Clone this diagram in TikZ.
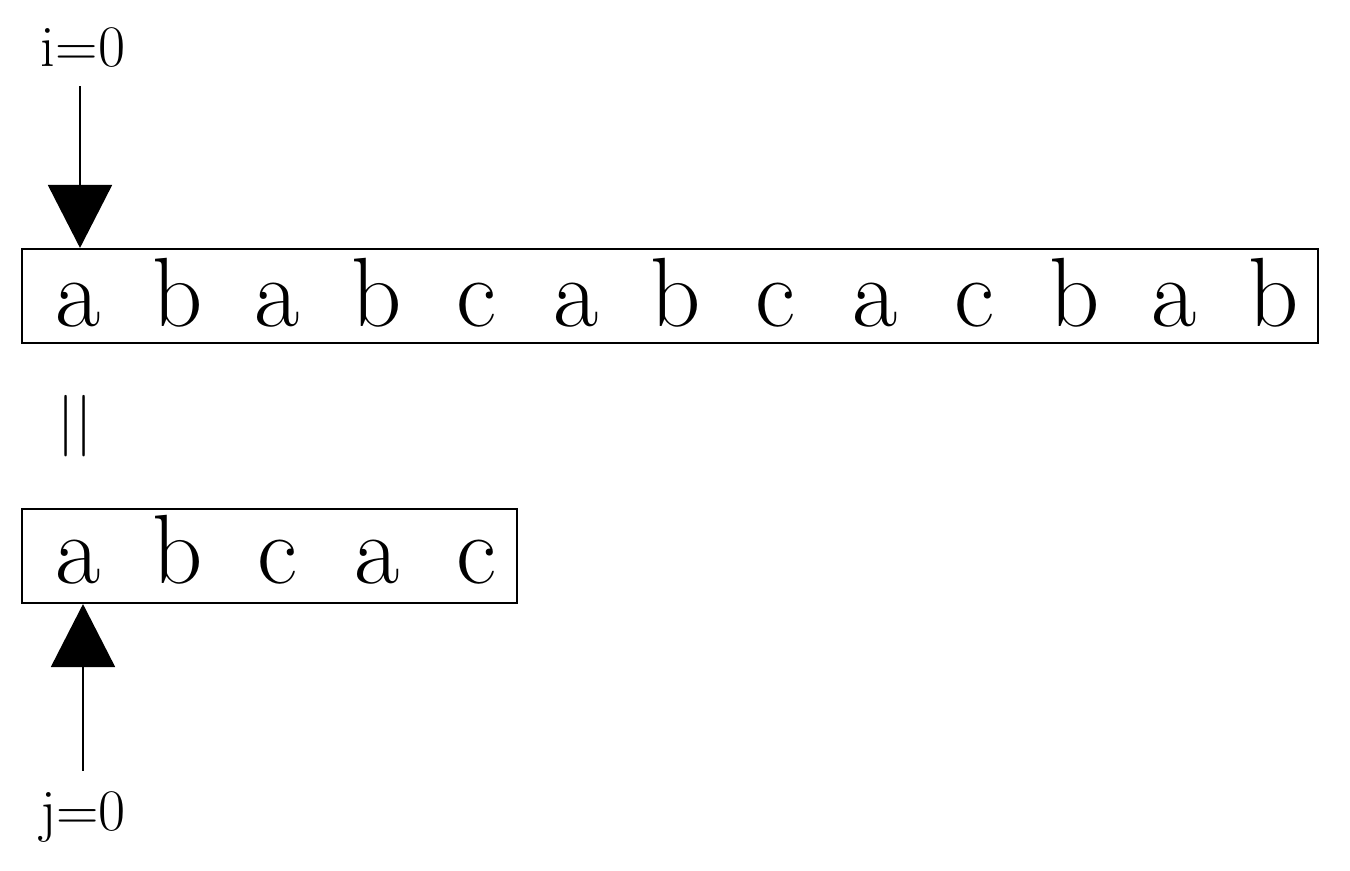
\documentclass[tikz,border=0pt]{standalone}
\usetikzlibrary{arrows.meta}

\tikzset{
    letter/.style={anchor=base, inner sep=0pt, font=\fontsize{56}{60}\selectfont},
    idxtext/.style={anchor=base, inner sep=0pt, font=\fontsize{33.5}{38}\selectfont},
    strbox/.style={draw, line width=1.2pt, minimum height=1.88cm, inner sep=0pt},
    pointer/.style={line width=1.1pt, -{Triangle[length=1.26cm, width=1.28cm]}}
}

\begin{document}
\begin{tikzpicture}
        \useasboundingbox (0, 0) rectangle (27, 17.4);

        % Boxes
        \node[strbox, minimum width=25.92cm] (Text) at (13.4, 11.48) {};
        \node[strbox, minimum width=9.9cm] (Pattern) at (5.39, 6.28) {};

        % Letters
        \foreach \c [count=\k from 0] in {a,b,a,b,c,a,b,c,a,c,b,a,b}
            \node[letter] (T\k) at ({1.56 + 1.993*\k}, 10.86) {\c};
        \foreach \c [count=\k from 0] in {a,b,c,a,c}
            \node[letter] (P\k) at ({1.56 + 1.993*\k}, 5.74) {\c};

        % Indices
        \node[idxtext] (IZero) at (1.66, 16.06) {i=0};
        \node[idxtext] (JZero) at (1.66, 0.8) {j=0};
        \node[anchor=center, inner sep=0pt, font=\fontsize{35}{40}\selectfont] (Equal) at (1.5, 8.88) {||};

        % Arrows
        \draw[pointer, shorten <=0.36cm] (IZero.south) ++(-0.06, 0) coordinate (IStart) -- (IStart |- Text.north);
        \draw[pointer, shorten <=0.4cm] (JZero.north) -- (JZero |- Pattern.south);
    \end{tikzpicture}
\end{document}
